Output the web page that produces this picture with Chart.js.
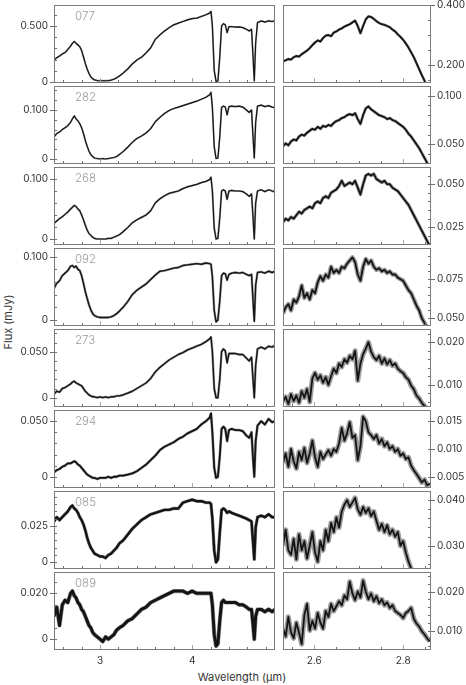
<!DOCTYPE html>
<html><head><meta charset="utf-8">
<script src="https://cdn.jsdelivr.net/npm/chart.js@4.4.1/dist/chart.umd.min.js"></script>
<style>
html,body{margin:0;padding:0;background:#fff;}
body{width:466px;height:685px;position:relative;overflow:hidden;font-family:Inter,"Open Sans",sans-serif;}
canvas{position:absolute;}
.pid{position:absolute;font-size:11.5px;line-height:14px;color:#9b9b9b;font-weight:300;}
.ttl{position:absolute;font-size:11px;color:#333;white-space:nowrap;}
</style></head><body>
<div class="ttl" style="left:7.5px;top:322px;transform:translate(-50%,-50%) rotate(-90deg);">Flux (mJy)</div>
<div class="ttl" style="left:242px;top:677px;transform:translate(-50%,-50%);">Wavelength (µm)</div>
<script>
// ---------- DATA ----------
const objectIds = ["077","282","268","092","273","294","085","089"];

const wlLeft = [2.50,2.53,2.56,2.59,2.62,2.65,2.68,
 2.70,2.72,2.74,2.76,2.78,2.80,2.82,2.84,2.86,2.88,2.90,2.92,2.94,
 2.97,3.00,3.03,3.06,3.09,3.12,3.15,3.18,3.21,
 3.25,3.30,3.35,3.40,3.45,3.50,3.55,3.60,3.65,3.70,3.75,3.80,3.85,3.90,3.95,4.00,4.05,4.10,4.15,
 4.19,4.205,4.22,4.24,4.26,4.28,4.30,4.32,4.34,4.36,4.38,4.40,
 4.43,4.47,4.51,4.55,4.59,4.62,4.645,4.66,4.675,4.69,4.71,
 4.75,4.79,4.83,4.87,4.90];

const wlRight = [2.530,2.536,2.542,2.548,2.554,2.560,2.566,2.572,
 2.578,2.584,2.590,2.596,2.602,2.608,2.614,2.620,
 2.626,2.632,2.638,2.644,2.650,2.656,2.662,2.668,
 2.674,2.680,2.686,2.692,2.698,2.704,2.710,2.716,
 2.722,2.728,2.734,2.740,2.746,2.752,2.758,2.764,
 2.770,2.776,2.782,2.788,2.794,2.800,2.806,2.812,
 2.818,2.824,2.830,2.836,2.842,2.848,2.854,2.860];

const full077 = [0.195,0.215,0.232,0.250,0.262,0.290,0.320,
 0.345,0.362,0.345,0.330,0.315,0.280,0.225,0.165,0.115,0.075,0.045,0.028,0.018,
 0.012,0.010,0.010,0.010,0.012,0.016,0.024,0.036,0.052,
 0.078,0.115,0.160,0.195,0.220,0.260,0.305,0.380,0.420,0.455,0.485,0.510,0.525,0.540,0.555,0.565,0.570,0.585,0.600,
 0.615,0.630,0.500,0.100,0.005,0.008,0.220,0.500,0.520,0.510,0.440,0.495,
 0.495,0.490,0.492,0.485,0.470,0.455,0.470,0.250,0.010,0.350,0.530,
 0.545,0.535,0.545,0.540,0.545];
const full282 = [0.045,0.052,0.055,0.060,0.064,0.068,0.075,
 0.082,0.088,0.082,0.078,0.072,0.064,0.052,0.038,0.026,0.016,0.009,0.005,0.002,
 0.001,0.000,0.001,0.000,0.001,0.002,0.003,0.005,0.009,
 0.015,0.024,0.034,0.042,0.047,0.053,0.062,0.076,0.085,0.093,0.099,0.103,0.106,0.109,0.112,0.115,0.118,0.122,0.126,
 0.131,0.136,0.105,0.025,0.001,0.002,0.045,0.105,0.108,0.106,0.090,0.107,
 0.108,0.107,0.108,0.106,0.100,0.095,0.100,0.050,0.002,0.075,0.108,
 0.110,0.107,0.109,0.106,0.105];
const full268 = [0.026,0.030,0.034,0.037,0.041,0.045,0.050,
 0.053,0.056,0.054,0.050,0.047,0.040,0.032,0.023,0.015,0.009,0.006,0.003,0.001,
 0.000,0.000,0.000,0.000,0.001,0.001,0.003,0.005,0.007,
 0.012,0.019,0.027,0.032,0.036,0.040,0.047,0.060,0.067,0.072,0.076,0.078,0.080,0.084,0.087,0.089,0.091,0.094,0.096,
 0.099,0.103,0.080,0.018,0.000,0.001,0.035,0.080,0.082,0.080,0.066,0.080,
 0.081,0.080,0.080,0.079,0.075,0.071,0.075,0.040,0.000,0.060,0.080,
 0.082,0.079,0.082,0.080,0.078];
const full092 = [0.050,0.058,0.062,0.070,0.074,0.078,0.085,
 0.086,0.083,0.085,0.080,0.078,0.070,0.058,0.045,0.034,0.024,0.016,0.010,0.007,
 0.005,0.004,0.004,0.004,0.004,0.005,0.007,0.010,0.014,
 0.020,0.029,0.040,0.047,0.052,0.057,0.064,0.071,0.077,0.078,0.080,0.082,0.083,0.086,0.087,0.088,0.089,0.088,0.090,
 0.089,0.088,0.068,0.015,-0.003,0.000,0.030,0.070,0.074,0.073,0.063,0.072,
 0.074,0.075,0.074,0.075,0.072,0.070,0.072,0.035,-0.002,0.055,0.075,
 0.076,0.074,0.077,0.075,0.077];
const full273 = [0.004,0.007,0.006,0.010,0.011,0.013,0.015,
 0.017,0.018,0.016,0.015,0.014,0.013,0.010,0.007,0.005,0.003,0.002,0.001,0.001,
 0.000,0.001,0.000,0.001,0.000,0.001,0.001,0.002,0.002,
 0.003,0.005,0.007,0.010,0.013,0.016,0.021,0.028,0.033,0.037,0.041,0.044,0.047,0.049,0.052,0.054,0.056,0.058,0.061,
 0.064,0.066,0.050,0.010,0.000,0.000,0.020,0.050,0.053,0.051,0.038,0.048,
 0.048,0.048,0.047,0.047,0.043,0.040,0.044,0.022,0.000,0.035,0.053,
 0.055,0.053,0.056,0.055,0.057];
const full294 = [0.004,0.006,0.007,0.009,0.010,0.012,0.012,
 0.013,0.014,0.013,0.011,0.010,0.008,0.006,0.004,0.002,0.001,0.000,-0.001,-0.001,
 -0.002,-0.001,-0.001,-0.001,0.000,-0.001,0.000,0.000,0.001,
 0.001,0.002,0.003,0.005,0.008,0.011,0.015,0.019,0.024,0.027,0.029,0.031,0.034,0.036,0.039,0.041,0.043,0.047,0.050,
 0.053,0.057,0.040,0.008,-0.001,0.000,0.018,0.043,0.045,0.043,0.032,0.042,
 0.043,0.042,0.042,0.041,0.037,0.035,0.040,0.018,0.000,0.032,0.046,
 0.050,0.047,0.052,0.049,0.050];
const full085 = [0.028,0.031,0.029,0.031,0.033,0.035,0.038,
 0.039,0.037,0.036,0.034,0.031,0.029,0.026,0.022,0.017,0.013,0.010,0.008,0.006,
 0.005,0.004,0.004,0.003,0.005,0.006,0.008,0.010,0.013,
 0.015,0.019,0.023,0.026,0.029,0.031,0.033,0.034,0.035,0.036,0.036,0.037,0.037,0.041,0.042,0.043,0.042,0.042,0.041,
 0.041,0.040,0.030,0.008,0.000,0.002,0.020,0.036,0.037,0.036,0.034,0.035,
 0.034,0.033,0.032,0.031,0.030,0.029,0.028,0.015,0.002,0.024,0.031,
 0.032,0.031,0.033,0.031,0.031];
const full089 = [0.010,0.014,0.006,0.015,0.017,0.016,0.020,
 0.021,0.019,0.018,0.016,0.015,0.013,0.012,0.010,0.008,0.006,0.005,0.003,0.002,
 0.001,0.000,-0.001,0.001,0.000,0.001,0.002,0.004,0.005,
 0.006,0.008,0.009,0.011,0.013,0.014,0.016,0.017,0.018,0.019,0.020,0.021,0.021,0.021,0.020,0.021,0.020,0.020,0.020,
 0.020,0.020,0.015,0.002,-0.003,-0.002,0.008,0.016,0.017,0.016,0.016,0.016,
 0.016,0.016,0.015,0.015,0.014,0.013,0.013,0.007,0.000,0.010,0.013,
 0.013,0.012,0.013,0.012,0.013];

const zoom077 = [0.212,0.216,0.220,0.218,0.226,0.230,0.228,0.236,
 0.242,0.248,0.256,0.266,0.275,0.282,0.278,0.290,
 0.298,0.300,0.296,0.308,0.312,0.318,0.322,0.328,
 0.332,0.336,0.342,0.348,0.330,0.306,0.330,0.352,
 0.362,0.360,0.354,0.346,0.340,0.336,0.334,0.330,
 0.326,0.318,0.312,0.302,0.294,0.284,0.272,0.258,
 0.242,0.226,0.206,0.186,0.166,0.148,0.130,0.112];
const zoom282 = [0.048,0.051,0.049,0.053,0.055,0.054,0.058,0.060,
 0.059,0.062,0.064,0.066,0.065,0.068,0.066,0.069,
 0.068,0.070,0.069,0.072,0.074,0.075,0.077,0.078,
 0.080,0.081,0.080,0.082,0.076,0.071,0.080,0.087,
 0.089,0.086,0.084,0.082,0.080,0.079,0.078,0.076,
 0.077,0.075,0.074,0.072,0.070,0.068,0.065,0.061,
 0.058,0.054,0.050,0.046,0.041,0.036,0.031,0.026];
const zoom268 = [0.028,0.030,0.029,0.031,0.030,0.032,0.034,0.033,
 0.035,0.036,0.037,0.036,0.039,0.040,0.039,0.042,
 0.043,0.042,0.045,0.046,0.047,0.049,0.052,0.049,
 0.050,0.051,0.050,0.052,0.048,0.044,0.050,0.055,
 0.056,0.055,0.056,0.053,0.052,0.051,0.052,0.050,
 0.050,0.048,0.047,0.046,0.044,0.042,0.040,0.038,
 0.035,0.032,0.029,0.026,0.023,0.020,0.017,0.014];
const zoom092 = [0.053,0.057,0.059,0.055,0.062,0.060,0.064,0.071,
 0.063,0.066,0.062,0.068,0.066,0.073,0.077,0.074,
 0.078,0.076,0.083,0.079,0.081,0.079,0.083,0.082,
 0.085,0.087,0.089,0.086,0.078,0.074,0.083,0.088,
 0.085,0.087,0.083,0.081,0.082,0.080,0.081,0.079,
 0.080,0.078,0.078,0.076,0.075,0.074,0.071,0.068,
 0.066,0.062,0.058,0.055,0.050,0.047,0.044,0.041];
const zoom273 = [0.0060,0.0072,0.0055,0.0078,0.0062,0.0075,0.0058,0.0085,
 0.0070,0.0090,0.0060,0.0115,0.0128,0.0112,0.0122,0.0105,
 0.0118,0.0100,0.0120,0.0138,0.0128,0.0150,0.0142,0.0160,
 0.0152,0.0168,0.0160,0.0180,0.0110,0.0150,0.0172,0.0185,
 0.0200,0.0178,0.0165,0.0158,0.0168,0.0150,0.0162,0.0148,
 0.0158,0.0145,0.0150,0.0138,0.0132,0.0128,0.0118,0.0112,
 0.0098,0.0090,0.0075,0.0068,0.0058,0.0050,0.0044,0.0040];
const zoom294 = [0.0075,0.0092,0.0068,0.0100,0.0078,0.0065,0.0095,0.0080,
 0.0102,0.0075,0.0092,0.0115,0.0085,0.0068,0.0095,0.0082,
 0.0090,0.0098,0.0088,0.0100,0.0095,0.0110,0.0138,0.0115,
 0.0128,0.0148,0.0120,0.0125,0.0080,0.0105,0.0158,0.0150,
 0.0130,0.0125,0.0118,0.0125,0.0110,0.0118,0.0105,0.0112,
 0.0100,0.0105,0.0095,0.0100,0.0088,0.0092,0.0082,0.0085,
 0.0070,0.0062,0.0055,0.0048,0.0040,0.0045,0.0035,0.0038];
const zoom085 = [0.0300,0.0335,0.0290,0.0280,0.0315,0.0270,0.0325,0.0290,
 0.0310,0.0272,0.0300,0.0330,0.0285,0.0265,0.0310,0.0290,
 0.0335,0.0310,0.0350,0.0330,0.0362,0.0340,0.0375,0.0390,
 0.0400,0.0385,0.0395,0.0405,0.0380,0.0368,0.0385,0.0372,
 0.0382,0.0365,0.0375,0.0355,0.0335,0.0348,0.0330,0.0345,
 0.0325,0.0335,0.0320,0.0330,0.0300,0.0310,0.0285,0.0265,
 0.0250,0.0235,0.0230,0.0220,0.0215,0.0210,0.0200,0.0200];
const zoom089 = [0.0105,0.0085,0.0135,0.0095,0.0080,0.0120,0.0095,0.0065,
 0.0140,0.0168,0.0100,0.0125,0.0105,0.0145,0.0120,0.0105,
 0.0150,0.0135,0.0168,0.0150,0.0162,0.0175,0.0165,0.0190,
 0.0180,0.0225,0.0195,0.0178,0.0200,0.0185,0.0228,0.0200,
 0.0180,0.0195,0.0175,0.0188,0.0170,0.0180,0.0165,0.0172,
 0.0158,0.0165,0.0150,0.0145,0.0140,0.0132,0.0145,0.0150,
 0.0158,0.0130,0.0118,0.0110,0.0098,0.0090,0.0080,0.0072];

const fullSpectra = [full077,full282,full268,full092,full273,full294,full085,full089];
const zoomSpectra = [zoom077,zoom282,zoom268,zoom092,zoom273,zoom294,zoom085,zoom089];

// tick values and labels
const leftTickValues = [[0,0.5],[0,0.1],[0,0.1],[0,0.1],[0,0.05],[0,0.05],[0,0.025],[0,0.02]];
const leftTickLabels = [["0","0.500"],["0","0.100"],["0","0.100"],["0","0.100"],["0","0.050"],["0","0.050"],["0","0.025"],["0","0.020"]];
const rightTickValues = [[0.2,0.4],[0.05,0.1],[0.025,0.05],[0.05,0.075],[0.01,0.02],[0.005,0.01,0.015],[0.03,0.04],[0.01,0.02]];
const rightTickLabels = [["0.200","0.400"],["0.050","0.100"],["0.025","0.050"],["0.050","0.075"],["0.010","0.020"],["0.005","0.010","0.015"],["0.030","0.040"],["0.010","0.020"]];
const leftXTickValues = [3,4];
const leftXTickLabels = ["3","4"];
const rightXTickValues = [2.6,2.8];
const rightXTickLabels = ["2.6","2.8"];

// ---------- LAYOUT / STYLE ----------
const leftRange = [[-0.01,0.6875],[-0.0102,0.149],[-0.01,0.12],[-0.0095,0.1137],[-0.0101,0.0747],[-0.0101,0.060],[-0.0046,0.049],[-0.0047,0.0293]];
const rightRange = [[0.14,0.40],[0.0298,0.110],[0.0147,0.060],[0.045,0.095],[0.0048,0.0231],[0.003,0.017],[0.0249,0.042],[0.005,0.025]];
const leftMinor = [0.1,0.02,0.02,0.02,0.01,0.01,0.005,0.005];
const rightMinor = [0.05,0.01,0.005,0.005,0.002,0.0025,0.002,0.002];
const leftBW = [1.2,1.2,1.2,1.4,1.4,1.8,2.4,3.0];
const leftGW = [1.8,1.8,2.0,2.4,2.4,2.8,3.4,4.2];
const rightBW = [1.8,1.8,1.8,1.8,1.8,1.8,1.8,1.8];
const rightGW = [2.6,3.0,3.4,4.4,5.0,5.0,5.0,5.0];

Chart.defaults.font.family = 'Inter, "Open Sans", sans-serif';
Chart.defaults.font.size = 10;
Chart.defaults.color = '#333';

const frameTicks = {
  id: 'frameTicks',
  afterDraw(chart, args, o) {
    const ctx = chart.ctx, a = chart.chartArea;
    const sx = chart.scales.x, sy = chart.scales.y;
    ctx.save();
    ctx.lineWidth = 1;
    sx.ticks.forEach(t => {
      const px = Math.round(sx.getPixelForValue(t.value)) + 0.5;
      const major = o.xMajor.some(m => Math.abs(m - t.value) < 1e-9);
      ctx.strokeStyle = major ? '#a8a8a8' : '#6e6e6e';
      ctx.beginPath(); ctx.moveTo(px, a.bottom); ctx.lineTo(px, a.bottom - (major ? 5 : 3)); ctx.stroke();
    });
    sy.ticks.forEach(t => {
      const py = Math.round(sy.getPixelForValue(t.value)) + 0.5;
      if (py < a.top || py > a.bottom) return;
      const major = o.yMajor.some(m => Math.abs(m - t.value) < 1e-9);
      const edge = o.side === 'left' ? a.left : a.right;
      const dir = o.side === 'left' ? 1 : -1;
      ctx.strokeStyle = '#6e6e6e';
      ctx.beginPath();
      if (major) { ctx.moveTo(edge - 4 * dir, py); ctx.lineTo(edge + 3 * dir, py); }
      else { ctx.moveTo(edge, py); ctx.lineTo(edge + 3 * dir, py); }
      ctx.stroke();
    });
    ctx.strokeStyle = '#7c7c7c';
    ctx.strokeRect(a.left + 0.5, a.top + 0.5, a.right - a.left - 1, a.bottom - a.top - 1);
    ctx.restore();
  }
};

function buildTickList(min, max, step, majors) {
  const vals = [];
  for (let k = Math.ceil(min / step - 1e-9); k * step <= max + 1e-12; k++) vals.push(+(k * step).toFixed(6));
  majors.forEach(m => { if (!vals.some(u => Math.abs(u - m) < 1e-9)) vals.push(m); });
  return vals.sort((a, b) => a - b);
}
function labelFor(majors, labels) {
  return (v) => { const k = majors.findIndex(m => Math.abs(m - v) < 1e-9); return k >= 0 ? labels[k] : ''; };
}

function makePanel(opt) {
  const c = document.createElement('canvas');
  c.width = opt.w; c.height = opt.h;
  c.style.left = opt.left + 'px'; c.style.top = opt.top + 'px';
  c.style.width = opt.w + 'px'; c.style.height = opt.h + 'px';
  document.body.appendChild(c);
  const pts = opt.xs.map((x, i) => ({ x: x, y: opt.ys[i] }));
  const yTicks = buildTickList(opt.yMin, opt.yMax, opt.yStep, opt.yMajor);
  const xTicks = buildTickList(opt.xMin, opt.xMax, opt.xStep, opt.xMajor);
  new Chart(c, {
    type: 'line',
    data: { datasets: [
      { data: pts, borderColor: '#141414', borderWidth: opt.bw, pointRadius: 0, tension: 0, order: 0, clip: 0, borderJoinStyle: 'round' },
      { data: pts, borderColor: '#9d9d9d', borderWidth: opt.gw, pointRadius: 0, tension: 0, order: 1, clip: 0, borderJoinStyle: 'round' }
    ] },
    options: {
      responsive: false, animation: false, devicePixelRatio: 1, events: [],
      layout: { padding: opt.pad },
      plugins: { legend: { display: false }, tooltip: { enabled: false },
        frameTicks: { xMajor: opt.xMajor, yMajor: opt.yMajor, side: opt.side } },
      scales: {
        x: { type: 'linear', position: 'bottom', min: opt.xMin, max: opt.xMax,
          grid: { display: false, drawTicks: false }, border: { display: false },
          ticks: { display: opt.showX, padding: 5, maxRotation: 0, minRotation: 0, autoSkip: false, color: '#333', font: { size: 10 },
            callback: labelFor(opt.xMajor, opt.xLabels) },
          afterBuildTicks: (s) => { s.ticks = xTicks.map(v => ({ value: v })); },
          afterFit: (s) => { s.height = opt.xH; s.paddingLeft = 0; s.paddingRight = 0; s.paddingTop = 0; s.paddingBottom = 0; } },
        y: { type: 'linear', position: opt.side, min: opt.yMin, max: opt.yMax,
          grid: { display: false, drawTicks: false }, border: { display: false },
          ticks: { padding: 6, autoSkip: false, color: '#333', font: { size: 10 },
            callback: labelFor(opt.yMajor, opt.yLabels) },
          afterBuildTicks: (s) => { s.ticks = yTicks.map(v => ({ value: v })); },
          afterFit: (s) => { s.width = opt.yW; s.paddingLeft = 0; s.paddingRight = 0; s.paddingTop = 0; s.paddingBottom = 0; } }
      }
    },
    plugins: [frameTicks]
  });
}

for (let i = 0; i < 8; i++) {
  const T = 5 + 81 * i;
  const bottom = i === 7;
  const h = 6 + 78 + (bottom ? 24 : 6);
  // left (full spectrum)
  makePanel({
    left: 0, top: T - 6, w: 280, h: h,
    pad: { left: 0, right: 5, top: 6, bottom: bottom ? 0 : 6 },
    xs: wlLeft, ys: fullSpectra[i],
    xMin: 2.5, xMax: 4.9, xStep: 0.2, xMajor: leftXTickValues, xLabels: leftXTickLabels,
    yMin: leftRange[i][0], yMax: leftRange[i][1], yStep: leftMinor[i],
    yMajor: leftTickValues[i], yLabels: leftTickLabels[i],
    side: 'left', yW: 54, showX: bottom, xH: bottom ? 24 : 0,
    bw: leftBW[i], gw: leftGW[i]
  });
  // right (zoom)
  makePanel({
    left: 280, top: T - 6, w: 186, h: h,
    pad: { left: 3, right: 0, top: 6, bottom: bottom ? 0 : 6 },
    xs: wlRight, ys: zoomSpectra[i],
    xMin: 2.53, xMax: 2.8626, xStep: 0.05, xMajor: rightXTickValues, xLabels: rightXTickLabels,
    yMin: rightRange[i][0], yMax: rightRange[i][1], yStep: rightMinor[i],
    yMajor: rightTickValues[i], yLabels: rightTickLabels[i],
    side: 'right', yW: 35, showX: bottom, xH: bottom ? 24 : 0,
    bw: rightBW[i], gw: rightGW[i]
  });
  const d = document.createElement('div');
  d.className = 'pid';
  d.textContent = objectIds[i];
  d.style.left = '75px';
  d.style.top = (T + 4) + 'px';
  document.body.appendChild(d);
}
</script>
</body></html>
